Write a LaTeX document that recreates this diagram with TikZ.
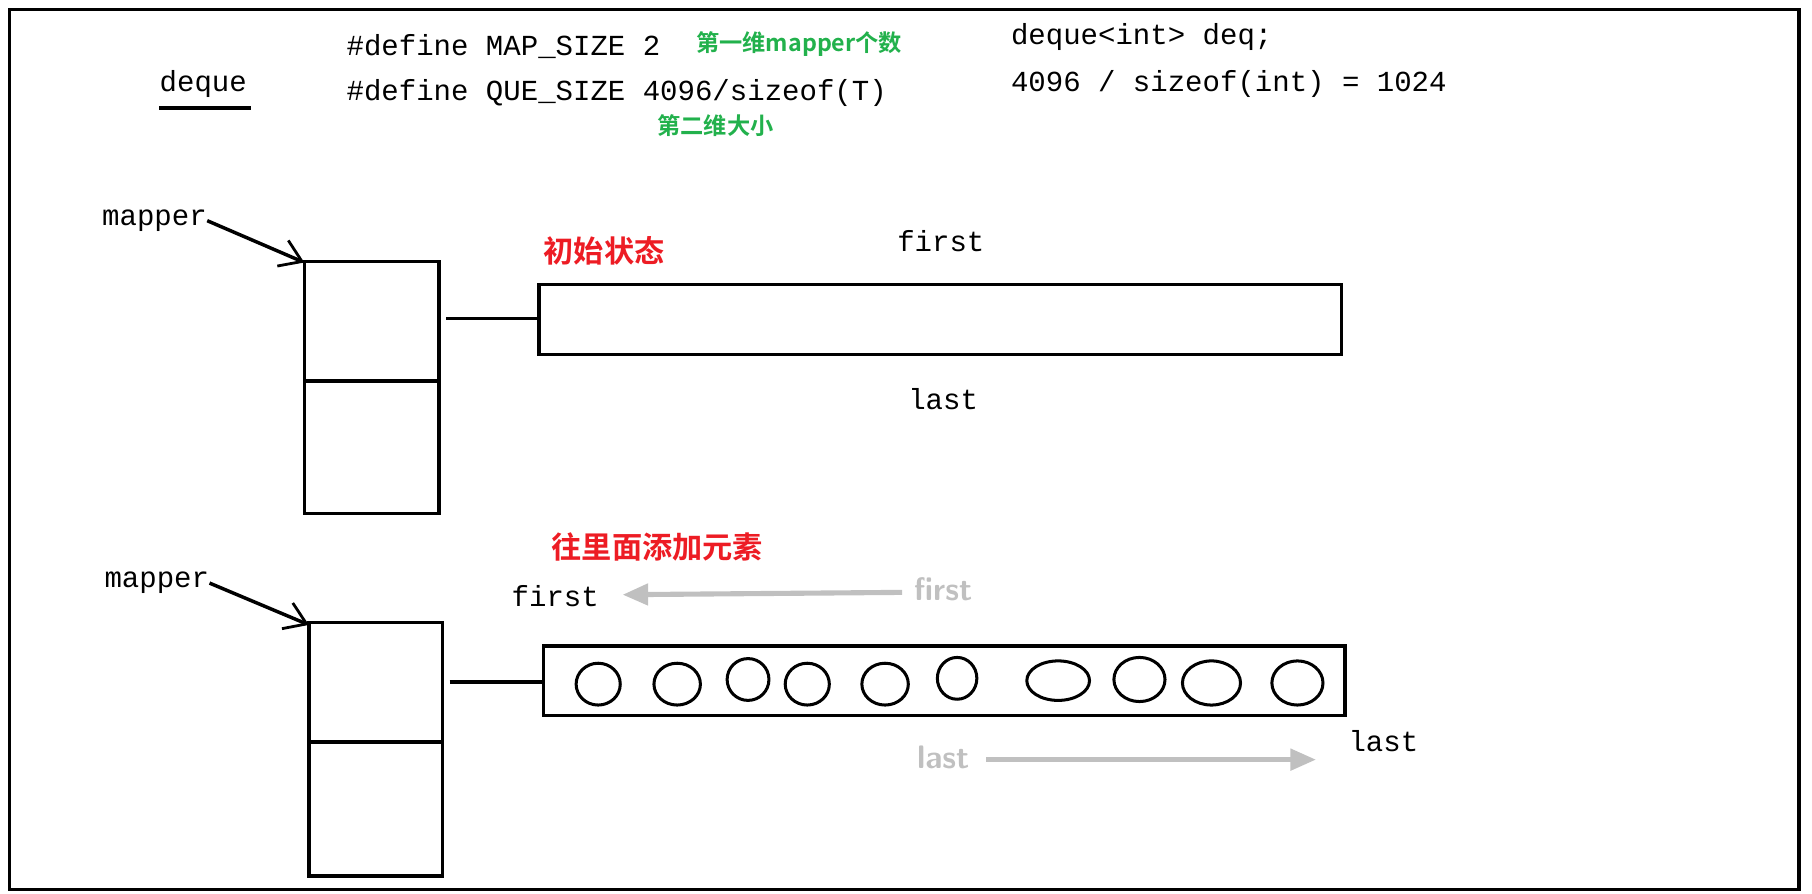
\documentclass[tikz,border=0pt]{standalone}
\usepackage{fontspec}
\setmonofont{Liberation Mono}
\newfontfamily\cjk{Noto Sans CJK SC}[BoldFont={* Bold}]
\usetikzlibrary{arrows.meta}
\begin{document}
\begin{tikzpicture}[x=0.5pt,y=-0.5pt,
  ln/.style={line width=1.5pt},
  code/.style={font=\ttfamily\fontsize{12.5}{14}\selectfont, inner sep=0pt},
  grn/.style={font=\cjk\bfseries\fontsize{10}{12}\selectfont, text={rgb,255:red,34;green,177;blue,76}, inner sep=0pt},
  rd/.style={font=\cjk\bfseries\fontsize{13}{15}\selectfont, text={rgb,255:red,237;green,28;blue,36}, inner sep=0pt},
  gry/.style={font=\sffamily\bfseries\fontsize{14}{16}\selectfont, text={rgb,255:red,192;green,192;blue,192}, inner sep=0pt},
  garrow/.style={line width=2.2pt, draw={rgb,255:red,192;green,192;blue,192}, -{Triangle[length=11pt,width=9pt]}},
  barb/.style={ln,-{Straight Barb[length=9pt,width=12pt,line width=1.2pt]}},
  elem/.style={line width=1.3pt}]
\useasboundingbox (0,0) rectangle (1560,769);
\draw[ln] (8,8) rectangle (1549,766);
% header
\node[code] (dq) at (175,72) {deque};
\draw[line width=2pt] (137,93) -- (216,93);
\node[code,anchor=west] (d1) at (298,40) {\#define MAP\_SIZE 2};
\node[code,anchor=west] (d2) at (298,80) {\#define QUE\_SIZE 4096/sizeof(T)};
\node[grn,anchor=west] (g1) at (599,38) {第一维mapper个数};
\node[grn] (g2) at (616,108) {第二维大小};
\node[code,anchor=west] (e1) at (870,32) {deque<int> deq;};
\node[code,anchor=west] (e2) at (870,72) {4096 / sizeof(int) = 1024};
% top group
\node[code] (m1) at (133,190) {mapper};
\draw[ln] (262,225) rectangle (378,442);
\draw[ln] (262,328) -- (378,328);
\coordinate (m1c) at (262,226);
\draw[barb] (m1.east) -- (m1c);
\draw[ln] (464,245) rectangle (1155,305);
\coordinate (a1) at (384,274); \coordinate (b1) at (464,274);
\draw[ln] (a1) -- (b1);
\node[rd] (r1) at (520,216) {初始状态};
\node[code] (f1) at (810,208) {first};
\node[code] (l1) at (812,344) {last};
% bottom group
\node[code] (m2) at (135,502) {mapper};
\draw[ln] (266,536) rectangle (381,754);
\draw[ln] (266,639) -- (381,639);
\coordinate (m2c) at (266,538);
\draw[barb] (m2.east) -- (m2c);
\draw[ln] (468,556) rectangle (1158,616);
\coordinate (a2) at (387,587); \coordinate (b2) at (468,587);
\draw[ln] (a2) -- (b2);
\node[rd] (r2) at (566,471) {往里面添加元素};
\node[code] (f2) at (478,513) {first};
\node[gry] (gf) at (812,507) {first};
\draw[garrow] (gf.west) ++(-10,3) -- (536,512);
\node[gry] (gl) at (812,652) {last};
\draw[garrow] (gl.east) ++(14,2) -- (1133,654);
\node[code] (l2) at (1191,638) {last};
% elements
\foreach \x/\y/\rx/\ry in {515/589/19/18, 583/589/20/18, 644/585/18/18, 695/589/19/18, 762/589/20/18, 824/584/17/18, 911/586/27/17, 981/585/22/19, 1043/588/25/19, 1117/588/22/19}
  \draw[elem] (\x,\y) ellipse [x radius=\rx, y radius=\ry];
\end{tikzpicture}
\end{document}
